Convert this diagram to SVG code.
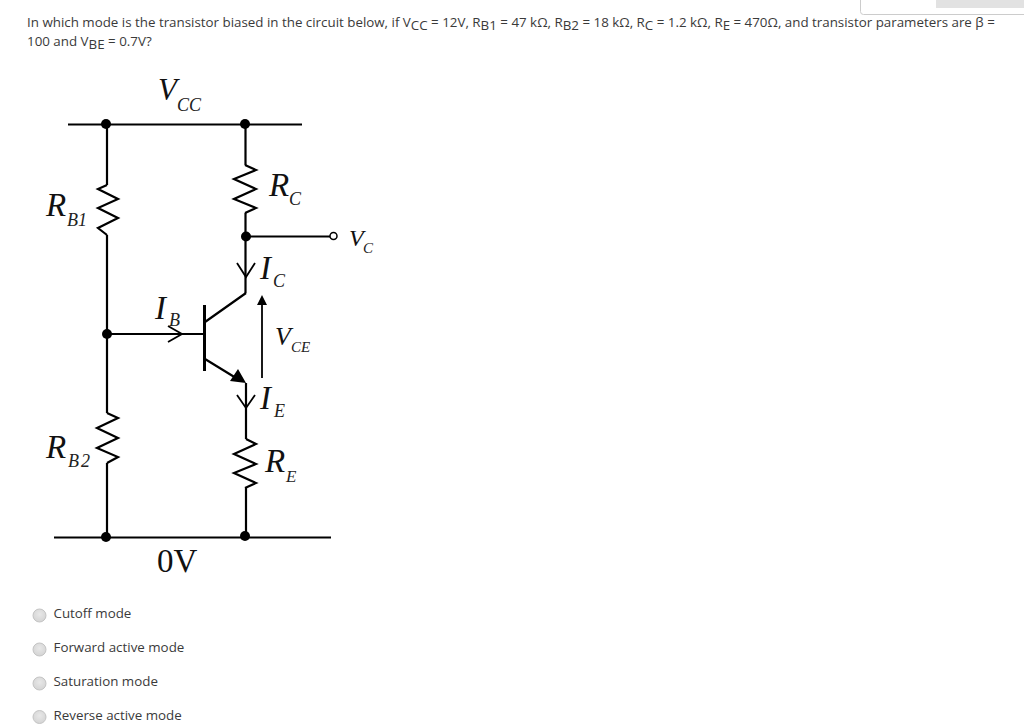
<svg xmlns="http://www.w3.org/2000/svg" width="1024" height="728" viewBox="0 0 1024 728">
<defs>
<radialGradient id="rg" cx="50%" cy="40%" r="60%"><stop offset="0" stop-color="#e8e8e8"/><stop offset="1" stop-color="#d4d4d4"/></radialGradient>
</defs>
<style>
.q{font-family:"Open Sans","Noto Sans",sans-serif;font-size:13.35px;fill:#3a3a3a}
.w{fill:none;stroke:#000;stroke-width:2.2;stroke-linejoin:miter}
.t{stroke-width:1.8}
.d{fill:#000}
.m{font-family:"Liberation Serif",serif;font-style:italic;font-size:33px;fill:#111}
.s{font-family:"Liberation Serif",serif;font-style:italic;font-size:18px;fill:#222}
.r{fill:url(#rg);stroke:#c4c4c4;stroke-width:1}
</style>
<rect width="1024" height="728" fill="#fff"/>
<g id="corner">
<rect x="860.5" y="-10" width="180" height="24.5" rx="3" fill="#fff" stroke="#ccc"/>
<rect x="936" y="-5" width="90" height="13" fill="#e2e2e2"/>
</g>
<g id="question">
<text class="q" x="27" y="27">In which mode is the transistor biased in the circuit below, if V<tspan dy="3">CC</tspan><tspan dy="-3"> = 12V, R</tspan><tspan dy="3">B1</tspan><tspan dy="-3"> = 47 kΩ, R</tspan><tspan dy="3">B2</tspan><tspan dy="-3"> = 18 kΩ, R</tspan><tspan dy="3">C</tspan><tspan dy="-3"> = 1.2 kΩ, R</tspan><tspan dy="3">E</tspan><tspan dy="-3"> = 470Ω, and transistor parameters are β =</tspan></text>
<text class="q" x="27" y="46">100 and V<tspan dy="3">BE</tspan><tspan dy="-3"> = 0.7V?</tspan></text>
</g>
<g id="connectors">
<path class="w" d="M68 124.500H302M54 537.500H331"/>
<path class="w" d="M107 124V185M107 235V413M107 463V537"/>
<path class="w" d="M245.500 124V165M245.500 213V293M246 383V439M246 488V537"/>
<path class="w" d="M246 236.500H330"/>
<path class="w" d="M107 334H204"/>
<path class="w" d="M246 293L205 322M205 359L236 378"/>
<path class="w t" d="M237 263L246 277L255 263M237 395L246 408L255 395M168 326L182 334L168 342"/>
<path class="w t" d="M262 304V378"/>
<path class="d" d="M262 295L267 305H257ZM246 383L230 381L238 369Z"/>
</g>
<g id="transistor"><path class="w" d="M204.500 305V371" style="stroke-width:3"/></g>
<g id="RB1"><path class="w" d="M107 185L98 189L118 199L98 208L118 218L98 228L107 235"/>
<text class="m" x="46" y="216">R</text><text class="s" x="67" y="226">B1</text></g>
<g id="RB2"><path class="w" d="M107 413L118 418L97 428L118 438L97 448L118 457L107 463"/>
<text class="m" x="46" y="458">R</text><text class="s" x="68" y="467" letter-spacing="2">B2</text></g>
<g id="RC"><path class="w" d="M245 165L256 170L234 179L256 189L234 199L256 208L245 213"/>
<text class="m" x="269" y="196">R</text><text class="s" x="289" y="205">C</text></g>
<g id="RE"><path class="w" d="M246 439L256 444L234 454L256 464L234 473L256 483L245 488"/>
<text class="m" x="265" y="472">R</text><text class="s" x="286" y="482" style="font-size:17px">E</text></g>
<g id="nodes">
<circle class="d" cx="106" cy="124" r="5"/><circle class="d" cx="245" cy="124" r="5"/>
<circle class="d" cx="246" cy="236.500" r="5"/><circle class="d" cx="107" cy="334" r="5"/>
<circle class="d" cx="106" cy="537" r="5"/><circle class="d" cx="245" cy="536" r="5"/>
<circle cx="333.500" cy="236" r="3.500" fill="#fff" stroke="#000" stroke-width="1.500"/>
</g>
<g id="labels">
<text class="m" x="158" y="100" style="font-size:31px">V</text><text class="s" x="177" y="111">CC</text>
<text class="m" x="349" y="246" style="font-size:24px">V</text><text class="s" x="363" y="253" style="font-size:15px">C</text>
<text class="m" x="260" y="279">I</text><text class="s" x="273" y="287">C</text>
<text class="m" x="155" y="319">I</text><text class="s" x="169" y="326">B</text>
<text class="m" x="275" y="345" style="font-size:26px">V</text><text class="s" x="291" y="352" style="font-size:15px">CE</text>
<text class="m" x="260" y="409">I</text><text class="s" x="274" y="417">E</text>
<text x="157" y="572" font-family="Liberation Serif, serif" font-size="33" fill="#111">0V</text>
</g>
<g id="options">
<circle class="r" cx="39.500" cy="615.500" r="6.500"/><text class="q" x="53.500" y="618">Cutoff mode</text>
<circle class="r" cx="39.500" cy="649.500" r="6.500"/><text class="q" x="53.500" y="652">Forward active mode</text>
<circle class="r" cx="39.500" cy="683.500" r="6.500"/><text class="q" x="53.500" y="686">Saturation mode</text>
<circle class="r" cx="39.500" cy="717" r="6.500"/><text class="q" x="53.500" y="720">Reverse active mode</text>
</g>
</svg>
